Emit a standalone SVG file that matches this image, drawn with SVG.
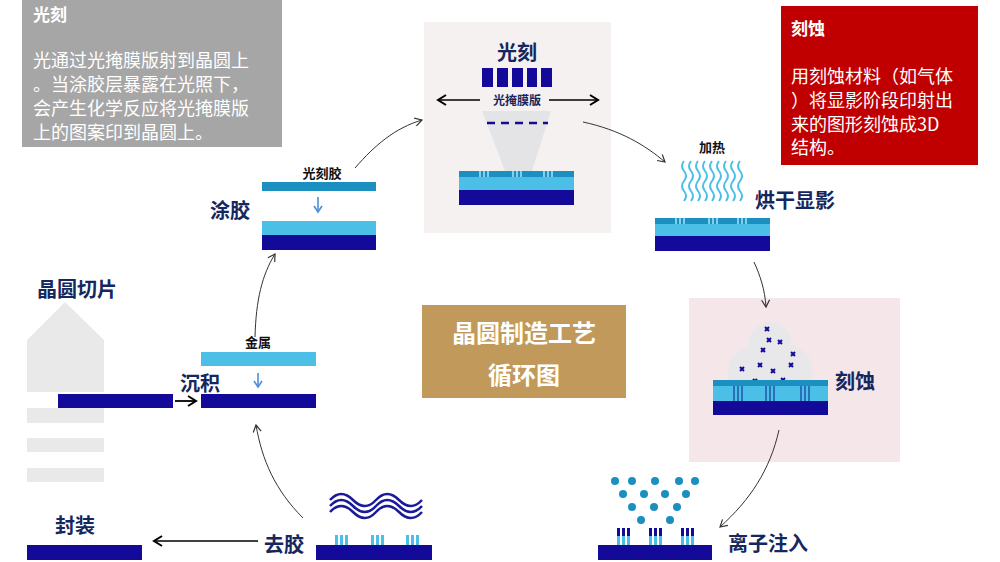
<svg xmlns="http://www.w3.org/2000/svg" width="1000" height="562" viewBox="0 0 1000 562">
<defs>
<style>
.t{font-family:"Noto Sans CJK SC","Noto Sans",sans-serif;font-weight:bold}
.lbl{font-size:20px;fill:#14275e}
.sm{font-size:13px;fill:#111}
.w{font-family:"Noto Sans CJK SC","Noto Sans",sans-serif;fill:#fff;font-size:18px}
.dk{fill:#140a99}.lt{fill:#4bbfe6}.md{fill:#1a8fc0}
.cn{fill:none;stroke:#333;stroke-width:1}
.wv{fill:none;stroke:#4bbfe6;stroke-width:2}
.wv2{fill:none;stroke:#1a1a9a;stroke-width:2.5}
</style>
<marker id="ah" markerWidth="10" markerHeight="10" refX="8" refY="5" orient="auto" markerUnits="userSpaceOnUse"><path d="M1,1 L8,5 L1,9" fill="none" stroke="#333" stroke-width="1.2"/></marker>
<marker id="ab" markerWidth="12" markerHeight="12" refX="9" refY="6" orient="auto" markerUnits="userSpaceOnUse"><path d="M1,1 L9,6 L1,11" fill="none" stroke="#000" stroke-width="2"/></marker>
<marker id="abl" markerWidth="10" markerHeight="10" refX="8" refY="5" orient="auto" markerUnits="userSpaceOnUse"><path d="M2,1 L8,5 L2,9" fill="none" stroke="#4a90d9" stroke-width="1.6"/></marker>
</defs>
<rect width="1000" height="562" fill="#fff"/>

<g id="info-litho">
<rect x="22" y="0" width="260" height="147" fill="#a6a6a6"/>
<text x="33" y="21" class="t" font-size="17" fill="#fff">光刻</text>
<text class="w"><tspan x="33" y="67">光通过光掩膜版射到晶圆上</tspan><tspan x="33" y="91">。当涂胶层暴露在光照下，</tspan><tspan x="33" y="115">会产生化学反应将光掩膜版</tspan><tspan x="33" y="139">上的图案印到晶圆上。</tspan></text>
</g>

<g id="info-etch">
<rect x="781" y="6" width="197" height="159" fill="#c00000"/>
<text x="791" y="35" class="t" font-size="17" fill="#fff">刻蚀</text>
<text class="w"><tspan x="791" y="83">用刻蚀材料（如气体</tspan><tspan x="791" y="107">）将显影阶段印射出</tspan><tspan x="791" y="131">来的图形刻蚀成3D</tspan><tspan x="791" y="154">结构。</tspan></text>
</g>

<g id="litho">
<rect x="424" y="22" width="187" height="211" fill="#f5f1f1"/>
<text x="517" y="60" class="t lbl" text-anchor="middle">光刻</text>
<g class="dk"><rect x="482" y="68" width="11" height="19"/><rect x="497" y="68" width="11" height="19"/><rect x="512" y="68" width="11" height="19"/><rect x="527" y="68" width="10" height="19"/><rect x="541" y="68" width="11" height="19"/></g>
<text x="517" y="105" class="t" font-size="12" fill="#14275e" text-anchor="middle">光掩膜版</text>
<line x1="480" y1="100" x2="438" y2="100" stroke="#000" stroke-width="1.5" marker-end="url(#ab)"/>
<line x1="549" y1="100" x2="598" y2="100" stroke="#000" stroke-width="1.5" marker-end="url(#ab)"/>
<polygon points="482,111 551,111 532,171 505,171" fill="#e4e4e6"/>
<line x1="487" y1="123" x2="548" y2="123" stroke="#140a99" stroke-width="2.5" stroke-dasharray="8,6"/>
<rect x="459" y="171" width="115" height="6" class="md"/>
<g fill="#7fd0ee"><rect x="479" y="171" width="2" height="6"/><rect x="483" y="171" width="2" height="6"/><rect x="487" y="171" width="2" height="6"/><rect x="512" y="171" width="2" height="6"/><rect x="516" y="171" width="2" height="6"/><rect x="520" y="171" width="2" height="6"/><rect x="543" y="171" width="2" height="6"/><rect x="547" y="171" width="2" height="6"/><rect x="551" y="171" width="2" height="6"/></g>
<rect x="459" y="177" width="115" height="13" class="lt"/>
<rect x="459" y="190" width="115" height="15" class="dk"/>
</g>

<g id="coat">
<text x="210" y="218" class="t lbl">涂胶</text>
<text x="322" y="178" class="t sm" text-anchor="middle">光刻胶</text>
<rect x="262" y="182" width="114" height="9" class="md"/>
<line x1="318" y1="197" x2="318" y2="212" stroke="#4a90d9" stroke-width="1.6" marker-end="url(#abl)"/>
<rect x="262" y="221" width="114" height="14" class="lt"/>
<rect x="262" y="235" width="114" height="15" class="dk"/>
</g>

<g id="bake">
<text x="712" y="152" class="t sm" text-anchor="middle">加热</text>
<g class="wv">
<path d="M684,161 q-4,5 0,10 q4,5 0,10 q-4,5 0,10 q4,5 0,10"/>
<path d="M691,161 q-4,5 0,10 q4,5 0,10 q-4,5 0,10 q4,5 0,10"/>
<path d="M698,161 q-4,5 0,10 q4,5 0,10 q-4,5 0,10 q4,5 0,10"/>
<path d="M705,161 q-4,5 0,10 q4,5 0,10 q-4,5 0,10 q4,5 0,10"/>
<path d="M712,161 q-4,5 0,10 q4,5 0,10 q-4,5 0,10 q4,5 0,10"/>
<path d="M719,161 q-4,5 0,10 q4,5 0,10 q-4,5 0,10 q4,5 0,10"/>
<path d="M726,161 q-4,5 0,10 q4,5 0,10 q-4,5 0,10 q4,5 0,10"/>
<path d="M733,161 q-4,5 0,10 q4,5 0,10 q-4,5 0,10 q4,5 0,10"/>
<path d="M740,161 q-4,5 0,10 q4,5 0,10 q-4,5 0,10 q4,5 0,10"/>
</g>
<text x="755" y="208" class="t lbl">烘干显影</text>
<rect x="655" y="218" width="115" height="6" class="md"/>
<g fill="#7fd0ee"><rect x="675" y="218" width="2" height="6"/><rect x="679" y="218" width="2" height="6"/><rect x="683" y="218" width="2" height="6"/><rect x="708" y="218" width="2" height="6"/><rect x="712" y="218" width="2" height="6"/><rect x="716" y="218" width="2" height="6"/><rect x="737" y="218" width="2" height="6"/><rect x="741" y="218" width="2" height="6"/><rect x="745" y="218" width="2" height="6"/></g>
<rect x="655" y="224" width="115" height="12" class="lt"/>
<rect x="655" y="236" width="115" height="15" class="dk"/>
</g>

<g id="etch">
<rect x="689" y="298" width="211" height="164" fill="#f5e6ea"/>
<path d="M729,381 C725,360 735,350 748,348 C748,330 760,322 770,322 C782,322 792,332 792,346 C805,348 815,358 812,381 Z" fill="#e8e8ea"/>
<g stroke="#140a99" stroke-width="2">
<path d="M765,327 l4,4 m0,-4 l-4,4"/><path d="M767,338 l4,4 m0,-4 l-4,4"/><path d="M778,340 l4,4 m0,-4 l-4,4"/><path d="M761,348 l4,4 m0,-4 l-4,4"/><path d="M791,352 l4,4 m0,-4 l-4,4"/><path d="M758,363 l4,4 m0,-4 l-4,4"/><path d="M789,363 l4,4 m0,-4 l-4,4"/><path d="M740,367 l4,4 m0,-4 l-4,4"/><path d="M771,369 l4,4 m0,-4 l-4,4"/><path d="M753,379 l4,4 m0,-4 l-4,4"/><path d="M781,378 l4,4 m0,-4 l-4,4"/>
</g>
<rect x="713" y="380" width="115" height="6" class="md"/>
<rect x="713" y="386" width="115" height="15" class="lt"/>
<g fill="#2a70b8"><rect x="733" y="386" width="2" height="15"/><rect x="737" y="386" width="2" height="15"/><rect x="741" y="386" width="2" height="15"/><rect x="765" y="386" width="2" height="15"/><rect x="769" y="386" width="2" height="15"/><rect x="773" y="386" width="2" height="15"/><rect x="800" y="386" width="2" height="15"/><rect x="804" y="386" width="2" height="15"/><rect x="808" y="386" width="2" height="15"/></g>
<rect x="713" y="401" width="115" height="14" class="dk"/>
<text x="835" y="389" class="t lbl">刻蚀</text>
</g>

<g id="implant">
<g fill="#1a8fc0"><circle cx="615" cy="481" r="4"/><circle cx="632" cy="481" r="4"/><circle cx="655" cy="481" r="4"/><circle cx="679" cy="481" r="4"/><circle cx="695" cy="481" r="4"/><circle cx="623" cy="494" r="4"/><circle cx="644" cy="494" r="4"/><circle cx="665" cy="494" r="4"/><circle cx="686" cy="494" r="4"/><circle cx="632" cy="507" r="4"/><circle cx="654" cy="507" r="4"/><circle cx="677" cy="507" r="4"/><circle cx="641" cy="520" r="4"/><circle cx="670" cy="520" r="4"/></g>
<g class="dk"><rect x="617" y="528" width="3" height="8"/><rect x="622" y="528" width="3" height="8"/><rect x="627" y="528" width="3" height="8"/><rect x="649" y="528" width="3" height="8"/><rect x="654" y="528" width="3" height="8"/><rect x="659" y="528" width="3" height="8"/><rect x="681" y="528" width="3" height="8"/><rect x="686" y="528" width="3" height="8"/><rect x="691" y="528" width="3" height="8"/></g>
<g class="lt"><rect x="617" y="536" width="3" height="9"/><rect x="622" y="536" width="3" height="9"/><rect x="627" y="536" width="3" height="9"/><rect x="649" y="536" width="3" height="9"/><rect x="654" y="536" width="3" height="9"/><rect x="659" y="536" width="3" height="9"/><rect x="681" y="536" width="3" height="9"/><rect x="686" y="536" width="3" height="9"/><rect x="691" y="536" width="3" height="9"/></g>
<rect x="598" y="545" width="114" height="15" class="dk"/>
<text x="728" y="551" class="t lbl">离子注入</text>
</g>

<g id="strip">
<g class="wv2">
<path d="M330,500 q11,-12 23,0 t23,0 t23,0 t23,0"/>
<path d="M330,506 q11,-12 23,0 t23,0 t23,0 t23,0"/>
<path d="M330,512 q11,-12 23,0 t23,0 t23,0 t23,0"/>
</g>
<g class="lt"><rect x="335" y="535" width="3" height="10"/><rect x="340" y="535" width="3" height="10"/><rect x="345" y="535" width="3" height="10"/><rect x="371" y="535" width="3" height="10"/><rect x="376" y="535" width="3" height="10"/><rect x="381" y="535" width="3" height="10"/><rect x="406" y="535" width="3" height="10"/><rect x="411" y="535" width="3" height="10"/><rect x="416" y="535" width="3" height="10"/></g>
<rect x="316" y="545" width="116" height="15" class="dk"/>
<text x="264" y="552" class="t lbl">去胶</text>
</g>

<g id="package">
<text x="55" y="533" class="t lbl">封装</text>
<rect x="27" y="545" width="115" height="15" class="dk"/>
</g>

<g id="slice">
<text x="37" y="297" class="t lbl">晶圆切片</text>
<polygon points="27,340 65,302 104,340 104,392 27,392" fill="#e9e9e9"/>
<rect x="27" y="408" width="77" height="15" fill="#e9e9e9"/>
<rect x="27" y="438" width="77" height="14" fill="#e9e9e9"/>
<rect x="27" y="468" width="77" height="14" fill="#e9e9e9"/>
<rect x="58" y="394" width="115" height="14" class="dk"/>
</g>

<g id="deposit">
<text x="180" y="391" class="t lbl">沉积</text>
<text x="258" y="347" class="t sm" text-anchor="middle">金属</text>
<rect x="201" y="352" width="115" height="14" class="lt"/>
<line x1="258" y1="373" x2="258" y2="387" stroke="#4a90d9" stroke-width="1.6" marker-end="url(#abl)"/>
<rect x="201" y="394" width="115" height="14" class="dk"/>
</g>

<g id="center">
<rect x="422" y="305" width="204" height="93" fill="#c19a5b"/>
<text x="524" y="342" class="t" font-size="24" fill="#fff" text-anchor="middle">晶圆制造工艺</text>
<text x="524" y="384" class="t" font-size="24" fill="#fff" text-anchor="middle">循环图</text>
</g>

<g id="connectors">
<path class="cn" d="M355,168 C375,145 395,128 422,120" marker-end="url(#ah)"/>
<path class="cn" d="M583,122 C620,130 645,145 665,162" marker-end="url(#ah)"/>
<path class="cn" d="M754,262 C760,275 765,290 766,307" marker-end="url(#ah)"/>
<path class="cn" d="M779,430 C770,470 750,500 720,527" marker-end="url(#ah)"/>
<path class="cn" d="M303,518 C275,490 262,460 256,425" marker-end="url(#ah)"/>
<path class="cn" d="M255,337 C256,300 262,275 275,254" marker-end="url(#ah)"/>
<line x1="175" y1="401" x2="196" y2="401" stroke="#000" stroke-width="1.8" marker-end="url(#ab)"/>
<line x1="258" y1="541" x2="154" y2="541" stroke="#000" stroke-width="1.5" marker-end="url(#ab)"/>
</g>
</svg>
